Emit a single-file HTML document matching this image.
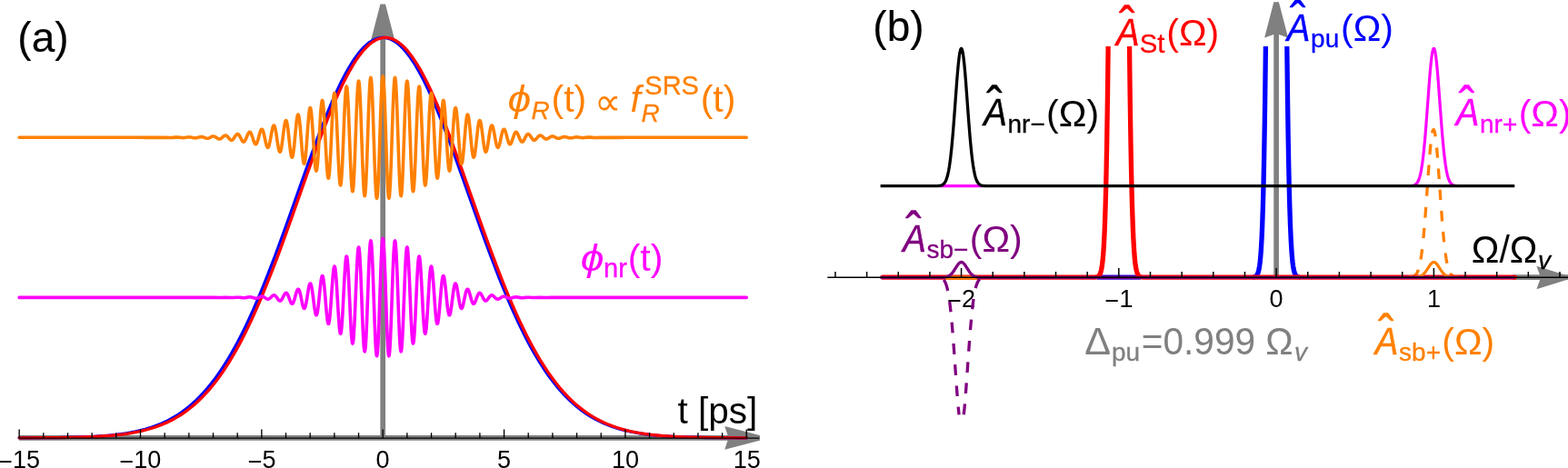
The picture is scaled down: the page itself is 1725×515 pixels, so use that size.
<!DOCTYPE html>
<html><head><meta charset="utf-8"><title>Figure</title>
<style>
html,body{margin:0;padding:0;background:#fff;}
body{width:1725px;height:515px;overflow:hidden;}
svg{display:block;}
svg text{font-family:"Liberation Sans","DejaVu Sans",sans-serif;stroke-width:0;stroke-linejoin:round;}
.w{stroke-width:0.15px}.w3{stroke-width:0.3px}.w5{stroke-width:0.5px}
.i{font-style:italic}
.k{fill:#000;stroke:#000}.o{fill:#ff8000;stroke:#ff8000}.m{fill:#f0f;stroke:#f0f}.p{fill:#800080;stroke:#800080}
.g{fill:#808080;stroke:#808080}.b{fill:#00f;stroke:#00f}.r{fill:#f00;stroke:#f00}
</style></head><body>
<svg width="1725" height="515" viewBox="0 0 1725 515">
<rect width="1725" height="515" fill="#fff"/>
<path d="M21,481.85 L835.7,481.85" stroke="#808080" stroke-width="5.6" fill="none"/>
<path d="M835.7,479.05 L797.3,468.95 L801.4,481.85 L797.3,494.75 L835.7,484.65 Z" fill="#808080"/>
<path d="M421.2,481.85 L421.2,4.8" stroke="#808080" stroke-width="5.7" fill="none"/>
<path d="M418.35,4.8 L408.10,44.3 L421.2,39.8 L434.30,44.3 L424.05,4.8 Z" fill="#808080"/>
<path d="M21.15,481.84 L50.49,481.7 L62.49,481.57 L73.16,481.4 L82.49,481.19 L91.83,480.89 L99.83,480.55 L106.49,480.18 L114.49,479.63 L121.16,479.06 L127.83,478.35 L133.16,477.68 L138.5,476.89 L143.83,475.98 L149.17,474.92 L154.5,473.7 L159.83,472.3 L165.17,470.7 L170.5,468.87 L174.5,467.33 L177.17,466.22 L179.84,465.04 L183.84,463.13 L187.84,461.05 L191.84,458.77 L195.84,456.29 L199.84,453.59 L203.84,450.66 L207.84,447.5 L211.84,444.08 L215.84,440.4 L219.84,436.44 L223.84,432.19 L227.84,427.64 L231.84,422.78 L235.84,417.61 L238.51,413.97 L242.51,408.24 L245.18,404.23 L249.18,397.93 L251.85,393.54 L255.85,386.66 L258.51,381.88 L261.18,376.94 L265.18,369.23 L267.85,363.9 L271.85,355.62 L274.51,349.91 L278.52,341.07 L283.85,328.78 L286.52,322.43 L290.52,312.66 L295.85,299.21 L302.52,281.77 L307.85,267.41 L314.52,249.04 L334.52,192.71 L341.19,174.13 L347.86,155.99 L353.19,141.93 L357.19,131.73 L359.86,125.11 L362.53,118.65 L365.19,112.38 L367.86,106.29 L370.53,100.41 L373.19,94.75 L375.86,89.31 L379.86,81.61 L382.53,76.8 L385.2,72.25 L387.86,67.99 L390.53,64.01 L391.86,62.13 L394.53,58.61 L397.2,55.39 L399.86,52.49 L402.53,49.92 L403.86,48.75 L405.2,47.67 L406.53,46.68 L407.87,45.77 L409.2,44.94 L410.53,44.2 L411.87,43.54 L413.2,42.98 L414.53,42.5 L415.87,42.1 L417.2,41.79 L418.53,41.58 L419.87,41.44 L421.2,41.4 L422.53,41.44 L423.87,41.58 L425.2,41.79 L426.53,42.1 L427.87,42.5 L429.2,42.98 L430.53,43.54 L431.87,44.2 L433.2,44.94 L434.53,45.77 L435.87,46.68 L437.2,47.67 L438.54,48.75 L439.87,49.92 L442.54,52.49 L445.2,55.39 L447.87,58.61 L450.54,62.13 L451.87,64.01 L454.54,67.99 L457.2,72.25 L459.87,76.8 L462.54,81.61 L466.54,89.31 L469.21,94.75 L471.87,100.41 L474.54,106.29 L477.21,112.38 L479.87,118.65 L482.54,125.11 L485.21,131.73 L489.21,141.93 L494.54,155.99 L501.21,174.13 L507.88,192.71 L527.88,249.04 L534.55,267.41 L539.88,281.77 L546.55,299.21 L551.88,312.66 L555.88,322.43 L558.55,328.78 L563.88,341.07 L567.88,349.91 L570.55,355.62 L574.55,363.9 L577.22,369.23 L581.22,376.94 L583.89,381.88 L586.55,386.66 L590.55,393.54 L593.22,397.93 L597.22,404.23 L599.89,408.24 L603.89,413.97 L606.56,417.61 L610.56,422.78 L614.56,427.64 L618.56,432.19 L622.56,436.44 L626.56,440.4 L630.56,444.08 L634.56,447.5 L638.56,450.66 L642.56,453.59 L646.56,456.29 L650.56,458.77 L654.56,461.05 L658.56,463.13 L662.56,465.04 L665.23,466.22 L667.9,467.33 L671.9,468.87 L677.23,470.7 L682.57,472.3 L687.9,473.7 L693.23,474.92 L698.57,475.98 L703.9,476.89 L709.24,477.68 L714.57,478.35 L721.24,479.06 L727.9,479.63 L735.91,480.18 L742.57,480.55 L750.57,480.89 L759.91,481.19 L769.24,481.4 L779.91,481.57 L791.91,481.7 L821.25,481.84" fill="none" stroke="#0000ff" stroke-width="3.3" stroke-linecap="round"/>
<path d="M21.15,481.85 L53.15,481.71 L65.16,481.59 L75.82,481.42 L85.16,481.21 L94.49,480.93 L102.49,480.59 L109.16,480.24 L117.16,479.71 L123.83,479.14 L130.5,478.45 L135.83,477.8 L141.16,477.03 L146.5,476.14 L151.83,475.1 L157.17,473.9 L162.5,472.53 L167.83,470.95 L173.17,469.15 L177.17,467.64 L179.84,466.55 L182.5,465.38 L186.5,463.5 L190.5,461.44 L194.5,459.19 L198.51,456.74 L202.51,454.08 L206.51,451.18 L210.51,448.05 L214.51,444.67 L218.51,441.02 L222.51,437.09 L226.51,432.87 L230.51,428.36 L234.51,423.53 L238.51,418.39 L241.18,414.78 L245.18,409.08 L247.84,405.09 L251.85,398.82 L254.51,394.45 L258.51,387.59 L261.18,382.82 L263.85,377.9 L267.85,370.22 L270.51,364.9 L274.51,356.64 L277.18,350.94 L281.18,342.11 L286.52,329.83 L289.18,323.48 L293.18,313.71 L298.52,300.25 L305.19,282.81 L310.52,268.42 L317.19,250.02 L323.85,231.29 L337.19,193.53 L343.86,174.89 L350.52,156.67 L355.86,142.55 L359.86,132.29 L362.53,125.64 L365.19,119.15 L367.86,112.85 L370.53,106.73 L373.19,100.81 L375.86,95.11 L378.53,89.65 L382.53,81.9 L385.2,77.06 L387.86,72.49 L390.53,68.19 L393.2,64.19 L394.53,62.3 L397.2,58.75 L399.86,55.51 L402.53,52.59 L405.2,50 L406.53,48.82 L407.87,47.74 L409.2,46.73 L410.53,45.81 L411.87,44.98 L413.2,44.23 L414.53,43.57 L415.87,43 L417.2,42.51 L418.53,42.11 L419.87,41.8 L421.2,41.58 L422.53,41.45 L423.87,41.4 L425.2,41.44 L426.53,41.57 L427.87,41.79 L429.2,42.1 L430.53,42.49 L431.87,42.97 L433.2,43.54 L434.53,44.2 L435.87,44.94 L437.2,45.77 L438.54,46.68 L439.87,47.68 L441.2,48.77 L442.54,49.94 L445.2,52.52 L447.87,55.43 L450.54,58.66 L453.2,62.21 L454.54,64.09 L457.2,68.09 L459.87,72.38 L462.54,76.94 L465.21,81.78 L469.21,89.51 L471.87,94.98 L474.54,100.67 L477.21,106.58 L479.87,112.69 L482.54,119 L485.21,125.48 L487.88,132.13 L491.88,142.38 L497.21,156.49 L503.88,174.71 L510.54,193.35 L529.21,246.11 L535.88,264.6 L541.22,279.07 L547.88,296.65 L553.22,310.23 L557.22,320.1 L559.88,326.51 L565.22,338.94 L569.22,347.89 L571.89,353.66 L575.89,362.05 L578.55,367.45 L582.55,375.25 L585.22,380.26 L587.89,385.11 L591.89,392.09 L594.56,396.54 L598.56,402.94 L601.22,407 L605.22,412.82 L607.89,416.51 L611.89,421.77 L615.89,426.71 L619.89,431.33 L623.89,435.65 L627.89,439.67 L631.89,443.42 L635.89,446.9 L639.89,450.11 L643.89,453.09 L647.89,455.83 L651.9,458.36 L655.9,460.68 L659.9,462.8 L663.9,464.75 L666.56,465.95 L669.23,467.07 L673.23,468.64 L678.57,470.5 L683.9,472.14 L689.23,473.56 L694.57,474.8 L699.9,475.88 L705.24,476.81 L710.57,477.61 L715.9,478.29 L722.57,479.01 L729.24,479.6 L737.24,480.16 L743.91,480.53 L751.91,480.87 L761.24,481.18 L770.58,481.4 L791.91,481.69 L821.25,481.84" fill="none" stroke="#ff0000" stroke-width="3.3" stroke-linecap="round"/>
<path d="M21.15,151.3 L148.1,151.32 L154.77,151.28 L161.43,151.33 L168.1,151.25 L174.77,151.37 L181.44,151.2 L188.1,151.45 L189.7,151.4 L193.17,151.14 L194.77,151.09 L196.37,151.15 L199.84,151.52 L201.44,151.59 L203.04,151.5 L206.51,150.99 L208.11,150.9 L209.71,151.02 L213.17,151.72 L213.97,151.82 L214.77,151.85 L215.57,151.81 L216.37,151.68 L219.84,150.73 L220.64,150.59 L221.44,150.55 L222.24,150.61 L223.04,150.78 L223.84,151.04 L226.51,152.07 L227.31,152.25 L228.11,152.31 L228.91,152.22 L229.71,151.99 L230.51,151.65 L232.38,150.65 L233.18,150.28 L233.98,150.04 L234.78,149.96 L235.58,150.08 L236.11,150.26 L236.64,150.52 L237.44,151.02 L239.31,152.34 L240.11,152.78 L240.91,153.03 L241.44,153.06 L242.24,152.91 L242.78,152.67 L243.31,152.33 L244.11,151.67 L245.98,149.94 L246.78,149.37 L247.58,149.05 L248.11,149 L248.38,149.03 L248.91,149.21 L249.45,149.52 L249.98,149.97 L250.78,150.82 L252.65,153.06 L253.45,153.79 L253.98,154.11 L254.25,154.2 L254.78,154.26 L255.05,154.22 L255.58,154 L256.11,153.59 L256.65,153.02 L257.45,151.92 L259.31,149.05 L260.11,148.11 L260.65,147.71 L260.91,147.59 L261.45,147.52 L261.71,147.57 L262.25,147.86 L262.78,148.38 L263.31,149.12 L264.11,150.51 L265.71,153.68 L266.25,154.6 L266.78,155.34 L267.31,155.84 L267.58,156 L267.85,156.08 L268.11,156.08 L268.38,156.01 L268.65,155.87 L268.91,155.64 L269.45,154.98 L269.98,154.05 L270.78,152.29 L272.38,148.31 L273.18,146.67 L273.71,145.88 L273.98,145.6 L274.25,145.41 L274.51,145.32 L274.78,145.31 L275.05,145.4 L275.32,145.59 L275.58,145.87 L276.12,146.7 L276.65,147.86 L277.45,150.07 L279.05,155.02 L279.85,157.05 L280.38,158.03 L280.65,158.37 L280.92,158.6 L281.18,158.72 L281.45,158.72 L281.72,158.61 L281.98,158.37 L282.25,158.02 L282.52,157.56 L283.05,156.31 L283.85,153.79 L285.72,146.72 L286.52,144.22 L287.05,143.03 L287.32,142.62 L287.58,142.34 L287.85,142.19 L288.12,142.19 L288.38,142.34 L288.65,142.63 L288.92,143.06 L289.18,143.63 L289.72,145.16 L290.52,148.25 L292.38,156.88 L293.18,159.92 L293.72,161.36 L293.98,161.86 L294.25,162.2 L294.52,162.37 L294.78,162.37 L295.05,162.19 L295.32,161.83 L295.58,161.3 L295.85,160.6 L296.38,158.74 L297.18,154.99 L299.05,144.57 L299.85,140.91 L300.38,139.18 L300.65,138.58 L300.92,138.18 L301.18,137.98 L301.45,137.99 L301.72,138.21 L301.99,138.65 L302.25,139.29 L302.52,140.13 L303.05,142.38 L303.85,146.88 L305.45,157.65 L306.25,162.4 L306.79,164.83 L307.05,165.75 L307.32,166.46 L307.59,166.93 L307.85,167.17 L308.12,167.15 L308.39,166.88 L308.65,166.35 L308.92,165.58 L309.45,163.34 L309.99,160.27 L310.52,156.54 L312.12,143.78 L312.92,138.18 L313.45,135.32 L313.72,134.23 L313.99,133.41 L314.25,132.85 L314.52,132.59 L314.79,132.62 L315.05,132.94 L315.32,133.57 L315.59,134.48 L316.12,137.13 L316.92,142.87 L318.79,160.11 L319.59,166.66 L320.12,169.99 L320.39,171.25 L320.65,172.21 L320.92,172.85 L321.19,173.15 L321.45,173.11 L321.72,172.72 L321.99,171.98 L322.25,170.91 L322.79,167.81 L323.59,161.11 L325.45,141.08 L326.25,133.5 L326.79,129.66 L327.05,128.21 L327.32,127.11 L327.59,126.38 L327.86,126.04 L328.12,126.1 L328.39,126.56 L328.66,127.42 L328.92,128.67 L329.46,132.26 L330.26,140 L332.12,163.04 L332.92,171.72 L333.46,176.11 L333.72,177.76 L333.99,179.01 L334.26,179.83 L334.52,180.21 L334.79,180.13 L335.06,179.59 L335.32,178.6 L335.59,177.16 L336.12,173.04 L336.92,164.19 L338.79,137.95 L339.59,128.1 L340.12,123.14 L340.39,121.28 L340.66,119.87 L340.92,118.96 L341.19,118.54 L341.46,118.64 L341.72,119.27 L341.99,120.4 L342.26,122.04 L342.79,126.73 L343.59,136.75 L345.46,166.33 L346.26,177.38 L346.79,182.94 L347.06,185.02 L347.32,186.58 L347.59,187.6 L347.86,188.05 L348.12,187.92 L348.39,187.21 L348.66,185.92 L348.92,184.07 L349.46,178.8 L350.26,167.57 L352.12,134.55 L352.92,122.26 L353.46,116.1 L353.72,113.8 L353.99,112.08 L354.26,110.96 L354.52,110.48 L354.79,110.64 L355.06,111.45 L355.33,112.89 L355.59,114.96 L356.13,120.83 L356.93,133.29 L358.79,169.79 L359.59,183.31 L360.13,190.07 L360.39,192.58 L360.66,194.46 L360.93,195.67 L361.19,196.19 L361.46,195.99 L361.73,195.09 L361.99,193.49 L362.26,191.2 L362.79,184.73 L363.59,171.03 L365.46,131.1 L366.26,116.36 L366.79,109.03 L367.06,106.3 L367.33,104.27 L367.59,102.97 L367.86,102.43 L368.13,102.66 L368.39,103.66 L368.66,105.43 L368.93,107.93 L369.46,115 L370.26,129.9 L372.13,173.16 L372.93,189.05 L373.46,196.94 L373.73,199.86 L373.99,202.03 L374.26,203.41 L374.53,203.98 L374.79,203.71 L375.06,202.61 L375.33,200.69 L375.59,197.97 L376.13,190.34 L376.93,174.29 L378.79,127.89 L379.59,110.92 L380.13,102.52 L380.39,99.41 L380.66,97.11 L380.93,95.66 L381.19,95.09 L381.46,95.4 L381.73,96.59 L382,98.66 L382.26,101.57 L382.8,109.74 L383.6,126.86 L385.46,176.12 L386.26,194.07 L386.8,202.92 L387.06,206.19 L387.33,208.59 L387.6,210.11 L387.86,210.69 L388.13,210.34 L388.4,209.05 L388.66,206.85 L388.93,203.76 L389.46,195.1 L390.26,177.03 L392.13,125.24 L392.93,106.46 L393.46,97.21 L393.73,93.82 L394,91.32 L394.26,89.76 L394.53,89.17 L394.8,89.57 L395.06,90.94 L395.33,93.26 L395.6,96.52 L396.13,105.59 L396.93,124.48 L398.8,178.38 L399.6,197.85 L400.13,207.4 L400.4,210.9 L400.66,213.47 L400.93,215.05 L401.2,215.64 L401.46,215.21 L401.73,213.77 L402,211.33 L402.26,207.94 L402.8,198.53 L403.6,178.97 L405.46,123.43 L406.26,103.46 L406.8,93.68 L407.06,90.12 L407.33,87.51 L407.6,85.91 L407.87,85.33 L408.13,85.8 L408.4,87.3 L408.67,89.82 L408.93,93.31 L409.47,102.99 L410.27,123.03 L412.13,179.69 L412.93,199.98 L413.47,209.88 L413.73,213.48 L414,216.11 L414.27,217.71 L414.53,218.26 L414.8,217.76 L415.07,216.21 L415.33,213.63 L415.6,210.07 L416.13,200.22 L416.93,179.9 L418.8,122.66 L419.6,102.25 L420.13,92.33 L420.4,88.73 L420.67,86.12 L420.93,84.53 L421.2,84 L421.47,84.53 L421.73,86.12 L422,88.73 L422.27,92.33 L422.8,102.25 L423.6,122.66 L425.47,179.9 L426.27,200.22 L426.8,210.07 L427.07,213.63 L427.33,216.21 L427.6,217.76 L427.87,218.26 L428.13,217.71 L428.4,216.11 L428.67,213.48 L428.93,209.88 L429.47,199.98 L430.27,179.69 L432.13,123.03 L432.93,102.99 L433.47,93.31 L433.73,89.82 L434,87.3 L434.27,85.8 L434.53,85.33 L434.8,85.91 L435.07,87.51 L435.34,90.12 L435.6,93.68 L436.14,103.46 L436.94,123.43 L438.8,178.97 L439.6,198.53 L440.14,207.94 L440.4,211.33 L440.67,213.77 L440.94,215.21 L441.2,215.64 L441.47,215.05 L441.74,213.47 L442,210.9 L442.27,207.4 L442.8,197.85 L443.6,178.38 L445.47,124.48 L446.27,105.59 L446.8,96.52 L447.07,93.26 L447.34,90.94 L447.6,89.57 L447.87,89.17 L448.14,89.76 L448.4,91.32 L448.67,93.82 L448.94,97.21 L449.47,106.46 L450.27,125.24 L452.14,177.03 L452.94,195.1 L453.47,203.76 L453.74,206.85 L454,209.05 L454.27,210.34 L454.54,210.69 L454.8,210.11 L455.07,208.59 L455.34,206.19 L455.6,202.92 L456.14,194.07 L456.94,176.12 L458.8,126.86 L459.6,109.74 L460.14,101.57 L460.4,98.66 L460.67,96.59 L460.94,95.4 L461.2,95.09 L461.47,95.66 L461.74,97.11 L462.01,99.41 L462.27,102.52 L462.81,110.92 L463.61,127.89 L465.47,174.29 L466.27,190.34 L466.81,197.97 L467.07,200.69 L467.34,202.61 L467.61,203.71 L467.87,203.98 L468.14,203.41 L468.41,202.03 L468.67,199.86 L468.94,196.94 L469.47,189.05 L470.27,173.16 L472.14,129.9 L472.94,115 L473.47,107.93 L473.74,105.43 L474.01,103.66 L474.27,102.66 L474.54,102.43 L474.81,102.97 L475.07,104.27 L475.34,106.3 L475.61,109.03 L476.14,116.36 L476.94,131.1 L478.81,171.03 L479.61,184.73 L480.14,191.2 L480.41,193.49 L480.67,195.09 L480.94,195.99 L481.21,196.19 L481.47,195.67 L481.74,194.46 L482.01,192.58 L482.27,190.07 L482.81,183.31 L483.61,169.79 L485.47,133.29 L486.27,120.83 L486.81,114.96 L487.07,112.89 L487.34,111.45 L487.61,110.64 L487.88,110.48 L488.14,110.96 L488.41,112.08 L488.68,113.8 L488.94,116.1 L489.48,122.26 L490.28,134.55 L492.14,167.57 L492.94,178.8 L493.48,184.07 L493.74,185.92 L494.01,187.21 L494.28,187.92 L494.54,188.05 L494.81,187.6 L495.08,186.58 L495.34,185.02 L495.61,182.94 L496.14,177.38 L496.94,166.33 L498.81,136.75 L499.61,126.73 L500.14,122.04 L500.41,120.4 L500.68,119.27 L500.94,118.64 L501.21,118.54 L501.48,118.96 L501.74,119.87 L502.01,121.28 L502.28,123.14 L502.81,128.1 L503.61,137.95 L505.48,164.19 L506.28,173.04 L506.81,177.16 L507.08,178.6 L507.34,179.59 L507.61,180.13 L507.88,180.21 L508.14,179.83 L508.41,179.01 L508.68,177.76 L508.94,176.11 L509.48,171.72 L510.28,163.04 L512.14,140 L512.94,132.26 L513.48,128.67 L513.74,127.42 L514.01,126.56 L514.28,126.1 L514.54,126.04 L514.81,126.38 L515.08,127.11 L515.35,128.21 L515.61,129.66 L516.15,133.5 L516.95,141.08 L518.81,161.11 L519.61,167.81 L520.15,170.91 L520.41,171.98 L520.68,172.72 L520.95,173.11 L521.21,173.15 L521.48,172.85 L521.75,172.21 L522.01,171.25 L522.28,169.99 L522.81,166.66 L523.61,160.11 L525.48,142.87 L526.28,137.13 L526.81,134.48 L527.08,133.57 L527.35,132.94 L527.61,132.62 L527.88,132.59 L528.15,132.85 L528.41,133.41 L528.68,134.23 L528.95,135.32 L529.48,138.18 L530.28,143.78 L531.88,156.54 L532.41,160.27 L532.95,163.34 L533.48,165.58 L533.75,166.35 L534.01,166.88 L534.28,167.15 L534.55,167.17 L534.81,166.93 L535.08,166.46 L535.35,165.75 L535.61,164.83 L536.15,162.4 L536.95,157.65 L538.55,146.88 L539.35,142.38 L539.88,140.13 L540.15,139.29 L540.41,138.65 L540.68,138.21 L540.95,137.99 L541.22,137.98 L541.48,138.18 L541.75,138.58 L542.02,139.18 L542.55,140.91 L543.35,144.57 L545.22,154.99 L546.02,158.74 L546.55,160.6 L546.82,161.3 L547.08,161.83 L547.35,162.19 L547.62,162.37 L547.88,162.37 L548.15,162.2 L548.42,161.86 L548.68,161.36 L549.22,159.92 L550.02,156.88 L551.88,148.25 L552.68,145.16 L553.22,143.63 L553.48,143.06 L553.75,142.63 L554.02,142.34 L554.28,142.19 L554.55,142.19 L554.82,142.34 L555.08,142.62 L555.35,143.03 L555.88,144.22 L556.68,146.72 L558.55,153.79 L559.35,156.31 L559.88,157.56 L560.15,158.02 L560.42,158.37 L560.68,158.61 L560.95,158.72 L561.22,158.72 L561.48,158.6 L561.75,158.37 L562.02,158.03 L562.55,157.05 L563.35,155.02 L564.95,150.07 L565.75,147.86 L566.28,146.7 L566.82,145.87 L567.08,145.59 L567.35,145.4 L567.62,145.31 L567.88,145.32 L568.15,145.41 L568.42,145.6 L568.69,145.88 L569.22,146.67 L570.02,148.31 L571.62,152.29 L572.42,154.05 L572.95,154.98 L573.49,155.64 L573.75,155.87 L574.02,156.01 L574.29,156.08 L574.55,156.08 L574.82,156 L575.09,155.84 L575.62,155.34 L576.15,154.6 L576.69,153.68 L578.29,150.51 L579.09,149.12 L579.62,148.38 L580.15,147.86 L580.69,147.57 L580.95,147.52 L581.49,147.59 L581.75,147.71 L582.29,148.11 L583.09,149.05 L584.95,151.92 L585.75,153.02 L586.29,153.59 L586.82,154 L587.35,154.22 L587.62,154.26 L588.15,154.2 L588.42,154.11 L588.95,153.79 L589.75,153.06 L591.62,150.82 L592.42,149.97 L592.95,149.52 L593.49,149.21 L594.02,149.03 L594.29,149 L594.82,149.05 L595.62,149.37 L596.42,149.94 L598.29,151.67 L599.09,152.33 L599.62,152.67 L600.16,152.91 L600.96,153.06 L601.49,153.03 L602.29,152.78 L603.09,152.34 L604.96,151.02 L605.76,150.52 L606.29,150.26 L606.82,150.08 L607.62,149.96 L608.42,150.04 L609.22,150.28 L610.02,150.65 L611.89,151.65 L612.69,151.99 L613.49,152.22 L614.29,152.31 L615.09,152.25 L615.89,152.07 L618.56,151.04 L619.36,150.78 L620.16,150.61 L620.96,150.55 L621.76,150.59 L622.56,150.73 L626.03,151.68 L626.83,151.81 L627.63,151.85 L628.43,151.82 L629.23,151.72 L632.69,151.02 L634.29,150.9 L635.89,150.99 L639.36,151.5 L640.96,151.59 L642.56,151.52 L646.03,151.15 L647.63,151.09 L649.23,151.14 L652.7,151.4 L654.3,151.45 L660.96,151.2 L667.63,151.37 L674.3,151.25 L680.97,151.33 L687.63,151.28 L694.3,151.32 L821.25,151.3" fill="none" stroke="#ff8000" stroke-width="3.6" stroke-linejoin="round" stroke-linecap="round"/>
<path d="M21.15,327.4 L228.38,327.41 L235.04,327.37 L241.44,327.45 L248.11,327.32 L254.78,327.53 L256.65,327.48 L259.85,327.25 L261.45,327.19 L263.31,327.27 L266.51,327.64 L268.11,327.73 L269.71,327.64 L273.18,327.02 L273.98,326.92 L274.78,326.88 L275.58,326.92 L276.38,327.03 L277.45,327.28 L279.85,327.99 L280.65,328.14 L281.45,328.2 L282.25,328.14 L283.05,327.97 L284.12,327.58 L286.52,326.51 L287.32,326.28 L288.12,326.2 L288.92,326.29 L289.72,326.55 L290.78,327.13 L292.38,328.23 L293.18,328.72 L293.98,329.05 L294.78,329.17 L295.58,329.04 L296.38,328.65 L296.92,328.26 L297.45,327.79 L299.05,326.18 L299.85,325.48 L300.65,325 L301.18,324.85 L301.45,324.84 L301.99,324.93 L302.25,325.04 L302.52,325.19 L303.05,325.61 L303.85,326.49 L305.72,329.14 L306.52,330.13 L307.05,330.63 L307.32,330.81 L307.85,331.02 L308.12,331.04 L308.65,330.9 L308.92,330.74 L309.19,330.53 L309.72,329.93 L310.52,328.68 L312.39,324.97 L313.19,323.59 L313.72,322.9 L313.99,322.65 L314.25,322.47 L314.52,322.37 L314.79,322.35 L315.05,322.4 L315.32,322.54 L315.59,322.76 L315.85,323.07 L316.39,323.9 L317.19,325.64 L319.05,330.73 L319.85,332.62 L320.39,333.55 L320.65,333.88 L320.92,334.12 L321.19,334.26 L321.45,334.28 L321.72,334.2 L321.99,334.01 L322.25,333.7 L322.52,333.29 L323.05,332.15 L323.85,329.78 L325.72,322.92 L326.52,320.4 L327.05,319.17 L327.32,318.72 L327.59,318.41 L327.86,318.24 L328.12,318.21 L328.39,318.33 L328.66,318.59 L328.92,319.01 L329.46,320.26 L329.99,322.04 L330.79,325.46 L332.66,334.51 L333.19,336.61 L333.46,337.48 L333.72,338.21 L333.99,338.78 L334.26,339.18 L334.52,339.4 L334.79,339.43 L335.06,339.27 L335.32,338.91 L335.59,338.36 L336.12,336.7 L336.66,334.38 L337.46,329.92 L339.32,318.23 L339.86,315.52 L340.12,314.41 L340.39,313.48 L340.66,312.76 L340.92,312.26 L341.19,311.99 L341.46,311.97 L341.72,312.19 L341.99,312.66 L342.26,313.37 L342.79,315.51 L343.32,318.5 L344.12,324.2 L345.72,337.07 L346.26,340.8 L346.79,343.8 L347.06,344.96 L347.32,345.85 L347.59,346.47 L347.86,346.79 L348.12,346.81 L348.39,346.51 L348.66,345.91 L348.92,344.99 L349.46,342.29 L349.99,338.54 L350.79,331.39 L352.39,315.39 L353.19,308.82 L353.72,305.69 L353.99,304.6 L354.26,303.86 L354.52,303.48 L354.79,303.48 L355.06,303.86 L355.33,304.62 L355.59,305.76 L355.86,307.27 L356.39,311.29 L357.19,319.41 L359.06,342.01 L359.86,349.96 L360.39,353.71 L360.66,355.01 L360.93,355.89 L361.19,356.32 L361.46,356.3 L361.73,355.82 L361.99,354.87 L362.26,353.48 L362.53,351.65 L363.06,346.77 L363.86,336.99 L365.46,313.64 L366.26,303.37 L366.79,298.13 L367.06,296.14 L367.33,294.62 L367.59,293.61 L367.86,293.12 L368.13,293.17 L368.39,293.77 L368.66,294.91 L368.93,296.59 L369.46,301.45 L370.26,311.96 L372.13,343.5 L372.93,355.46 L373.46,361.52 L373.73,363.81 L373.99,365.54 L374.26,366.69 L374.53,367.23 L374.79,367.13 L375.06,366.41 L375.33,365.05 L375.59,363.08 L376.13,357.41 L376.93,345.21 L378.79,308.93 L379.59,295.3 L380.13,288.42 L380.39,285.84 L380.66,283.89 L380.93,282.62 L381.19,282.05 L381.46,282.19 L381.73,283.05 L382,284.63 L382.26,286.9 L382.8,293.39 L383.6,307.26 L385.46,348.17 L386.26,363.41 L386.8,371.05 L387.06,373.9 L387.33,376.04 L387.6,377.42 L387.86,378.03 L388.13,377.83 L388.4,376.83 L388.66,375.03 L388.93,372.47 L389.46,365.18 L390.26,349.72 L392.13,304.51 L392.93,287.81 L393.46,279.49 L393.73,276.4 L394,274.09 L394.26,272.62 L394.53,272.01 L394.8,272.27 L395.06,273.41 L395.33,275.41 L395.6,278.25 L396.13,286.26 L396.93,303.16 L398.8,352.12 L399.6,370.06 L400.13,378.95 L400.4,382.23 L400.66,384.66 L400.93,386.2 L401.2,386.81 L401.46,386.48 L401.73,385.21 L402,383.03 L402.26,379.95 L402.8,371.31 L403.6,353.21 L405.46,301.22 L406.26,282.34 L406.8,273.04 L407.06,269.62 L407.33,267.11 L407.6,265.54 L407.87,264.95 L408.13,265.34 L408.4,266.72 L408.67,269.06 L408.93,272.34 L409.47,281.46 L410.27,300.46 L412.13,354.57 L412.93,374.06 L413.47,383.6 L413.73,387.08 L414,389.63 L414.27,391.19 L414.53,391.75 L414.8,391.3 L415.07,389.83 L415.33,387.37 L415.6,383.96 L416.13,374.51 L416.93,354.96 L418.8,299.76 L419.6,280.04 L420.13,270.45 L420.4,266.97 L420.67,264.45 L420.93,262.91 L421.2,262.4 L421.47,262.91 L421.73,264.45 L422,266.97 L422.27,270.45 L422.8,280.04 L423.6,299.76 L425.47,354.96 L426.27,374.51 L426.8,383.96 L427.07,387.37 L427.33,389.83 L427.6,391.3 L427.87,391.75 L428.13,391.19 L428.4,389.63 L428.67,387.08 L428.93,383.6 L429.47,374.06 L430.27,354.57 L432.13,300.46 L432.93,281.46 L433.47,272.34 L433.73,269.06 L434,266.72 L434.27,265.34 L434.53,264.95 L434.8,265.54 L435.07,267.11 L435.34,269.62 L435.6,273.04 L436.14,282.34 L436.94,301.22 L438.8,353.21 L439.6,371.31 L440.14,379.95 L440.4,383.03 L440.67,385.21 L440.94,386.48 L441.2,386.81 L441.47,386.2 L441.74,384.66 L442,382.23 L442.27,378.95 L442.8,370.06 L443.6,352.12 L445.47,303.16 L446.27,286.26 L446.8,278.25 L447.07,275.41 L447.34,273.41 L447.6,272.27 L447.87,272.01 L448.14,272.62 L448.4,274.09 L448.67,276.4 L448.94,279.49 L449.47,287.81 L450.27,304.51 L452.14,349.72 L452.94,365.18 L453.47,372.47 L453.74,375.03 L454,376.83 L454.27,377.83 L454.54,378.03 L454.8,377.42 L455.07,376.04 L455.34,373.9 L455.6,371.05 L456.14,363.41 L456.94,348.17 L458.8,307.26 L459.6,293.39 L460.14,286.9 L460.4,284.63 L460.67,283.05 L460.94,282.19 L461.2,282.05 L461.47,282.62 L461.74,283.89 L462.01,285.84 L462.27,288.42 L462.81,295.3 L463.61,308.93 L465.47,345.21 L466.27,357.41 L466.81,363.08 L467.07,365.05 L467.34,366.41 L467.61,367.13 L467.87,367.23 L468.14,366.69 L468.41,365.54 L468.67,363.81 L468.94,361.52 L469.47,355.46 L470.27,343.5 L472.14,311.96 L472.94,301.45 L473.47,296.59 L473.74,294.91 L474.01,293.77 L474.27,293.17 L474.54,293.12 L474.81,293.61 L475.07,294.62 L475.34,296.14 L475.61,298.13 L476.14,303.37 L476.94,313.64 L478.54,336.99 L479.34,346.77 L479.87,351.65 L480.14,353.48 L480.41,354.87 L480.67,355.82 L480.94,356.3 L481.21,356.32 L481.47,355.89 L481.74,355.01 L482.01,353.71 L482.54,349.96 L483.34,342.01 L485.21,319.41 L486.01,311.29 L486.54,307.27 L486.81,305.76 L487.07,304.62 L487.34,303.86 L487.61,303.48 L487.88,303.48 L488.14,303.86 L488.41,304.6 L488.68,305.69 L489.21,308.82 L490.01,315.39 L491.61,331.39 L492.41,338.54 L492.94,342.29 L493.48,344.99 L493.74,345.91 L494.01,346.51 L494.28,346.81 L494.54,346.79 L494.81,346.47 L495.08,345.85 L495.34,344.96 L495.61,343.8 L496.14,340.8 L496.68,337.07 L498.28,324.2 L499.08,318.5 L499.61,315.51 L500.14,313.37 L500.41,312.66 L500.68,312.19 L500.94,311.97 L501.21,311.99 L501.48,312.26 L501.74,312.76 L502.01,313.48 L502.28,314.41 L502.54,315.52 L503.08,318.23 L504.94,329.92 L505.74,334.38 L506.28,336.7 L506.81,338.36 L507.08,338.91 L507.34,339.27 L507.61,339.43 L507.88,339.4 L508.14,339.18 L508.41,338.78 L508.68,338.21 L508.94,337.48 L509.21,336.61 L509.74,334.51 L511.61,325.46 L512.41,322.04 L512.94,320.26 L513.48,319.01 L513.74,318.59 L514.01,318.33 L514.28,318.21 L514.54,318.24 L514.81,318.41 L515.08,318.72 L515.35,319.17 L515.88,320.4 L516.68,322.92 L518.55,329.78 L519.35,332.15 L519.88,333.29 L520.15,333.7 L520.41,334.01 L520.68,334.2 L520.95,334.28 L521.21,334.26 L521.48,334.12 L521.75,333.88 L522.01,333.55 L522.55,332.62 L523.35,330.73 L525.21,325.64 L526.01,323.9 L526.55,323.07 L526.81,322.76 L527.08,322.54 L527.35,322.4 L527.61,322.35 L527.88,322.37 L528.15,322.47 L528.41,322.65 L528.68,322.9 L529.21,323.59 L530.01,324.97 L531.88,328.68 L532.68,329.93 L533.21,330.53 L533.48,330.74 L533.75,330.9 L534.28,331.04 L534.55,331.02 L535.08,330.81 L535.35,330.63 L535.88,330.13 L536.68,329.14 L538.55,326.49 L539.35,325.61 L539.88,325.19 L540.15,325.04 L540.41,324.93 L540.95,324.84 L541.22,324.85 L541.75,325 L542.55,325.48 L543.35,326.18 L544.95,327.79 L545.48,328.26 L546.02,328.65 L546.82,329.04 L547.62,329.17 L548.42,329.05 L549.22,328.72 L550.02,328.23 L551.62,327.13 L552.68,326.55 L553.48,326.29 L554.28,326.2 L555.08,326.28 L555.88,326.51 L558.28,327.58 L559.35,327.97 L560.15,328.14 L560.95,328.2 L561.75,328.14 L562.55,327.99 L564.95,327.28 L566.02,327.03 L566.82,326.92 L567.62,326.88 L568.42,326.92 L569.22,327.02 L572.69,327.64 L574.29,327.73 L575.89,327.64 L579.09,327.27 L580.95,327.19 L582.55,327.25 L585.75,327.48 L587.62,327.53 L594.29,327.32 L600.96,327.45 L607.36,327.37 L614.02,327.41 L821.25,327.4" fill="none" stroke="#ff00ff" stroke-width="3.6" stroke-linejoin="round" stroke-linecap="round"/>
<path d="M20.45,482.15 L835.3,482.15 M21.15,482.15 v-9.6 M47.82,482.15 v-6.0 M74.49,482.15 v-6.0 M101.16,482.15 v-6.0 M127.83,482.15 v-6.0 M154.50,482.15 v-9.6 M181.17,482.15 v-6.0 M207.84,482.15 v-6.0 M234.51,482.15 v-6.0 M261.18,482.15 v-6.0 M287.85,482.15 v-9.6 M314.52,482.15 v-6.0 M341.19,482.15 v-6.0 M367.86,482.15 v-6.0 M394.53,482.15 v-6.0 M421.20,482.15 v-9.6 M447.87,482.15 v-6.0 M474.54,482.15 v-6.0 M501.21,482.15 v-6.0 M527.88,482.15 v-6.0 M554.55,482.15 v-9.6 M581.22,482.15 v-6.0 M607.89,482.15 v-6.0 M634.56,482.15 v-6.0 M661.23,482.15 v-6.0 M687.90,482.15 v-9.6 M714.57,482.15 v-6.0 M741.24,482.15 v-6.0 M767.91,482.15 v-6.0 M794.58,482.15 v-6.0 M821.25,482.15 v-9.6" stroke="#000" stroke-width="1.35" fill="none"/>
<path d="M1573.96,158.5 L1572.91,170 M1572.01,181.5 L1571.17,193 M1570.37,204.5 L1569.59,215.7 M1568.73,227.8 L1567.84,239.6 M1566.94,250.8 L1565.9,262.2 M1564.59,274.3 L1563.79,280.38 L1562.98,285.6 M1560.41,296.7 L1559.74,298.52 L1559.09,299.94 L1558.41,301.16 L1557.67,302.17 L1557.12,302.78 L1556.68,303.18 L1555.82,303.79 L1555.02,304.19 L1553.79,304.6 M1580.57,162.5 L1581.53,173.7 M1582.43,185.5 L1583.25,197 M1584.06,208.7 L1584.85,220 M1585.72,232 L1586.6,243.5 M1587.57,255 L1588.65,266.3 M1590.09,278.5 L1590.99,284.58 L1591.95,289.8 M1595.46,300.7 L1596.08,301.67 L1596.78,302.53 L1597.46,303.18 L1598.2,303.72 L1599.01,304.15 L1599.88,304.47 L1600.72,304.68 L1602.12,304.9 M1575.6,146.3 L1576.05,144.39 L1576.3,143.63 L1576.52,143.12 L1576.79,142.74 L1576.99,142.61 L1577.15,142.61 L1577.47,142.87 L1577.85,143.66 L1578.31,145.23 L1578.73,147.32 L1579.19,150.2" fill="none" stroke="#ff8000" stroke-width="3.3" stroke-linejoin="round"/>
<path d="M1664.3,305.1 L1726,305.1" stroke="#808080" stroke-width="5.6" fill="none"/>
<path d="M1731,305.5 L1690.4,292.7 L1695,305.5 L1690.4,318.3 Z" fill="#808080"/>
<path d="M1404.1,305.0 L1404.1,2.4" stroke="#808080" stroke-width="5.7" fill="none"/>
<path d="M1401.25,2.4 L1391.10,41.6 L1404.1,37.0 L1417.10,41.6 L1406.95,2.4 Z" fill="#808080"/>
<clipPath id="cl"><rect x="900" y="51.0" width="830" height="300"/></clipPath>
<path d="M1206.8,305.1 L1254.8,305.1" fill="none" stroke="#2b00d4" stroke-width="5.3"/>
<path d="M1378.11,305.01 L1379.47,304.85 L1380.58,304.56 L1381.49,304.09 L1381.88,303.8 L1382.27,303.42 L1382.98,302.46 L1383.57,301.32 L1384.15,299.74 L1384.67,297.85 L1385.19,295.37 L1385.65,292.59 L1386.1,289.13 L1386.49,285.5 L1386.88,281.15 L1387.27,275.97 L1387.99,263.87 L1388.7,247.62 L1389.35,228.37 L1390,203.92 L1390.58,176.71 L1391.1,147.76 L1391.62,113.83 L1392.79,20 L1415.41,20 L1416.58,113.83 L1417.1,147.76 L1417.62,176.71 L1418.2,203.92 L1418.85,228.37 L1419.5,247.62 L1420.21,263.87 L1420.93,275.97 L1421.32,281.15 L1421.71,285.5 L1422.1,289.13 L1422.55,292.59 L1423.01,295.37 L1423.53,297.85 L1424.05,299.74 L1424.63,301.32 L1425.22,302.46 L1425.93,303.42 L1426.32,303.8 L1426.71,304.09 L1427.62,304.56 L1428.73,304.85 L1430.09,305.01" fill="none" stroke="#0000ff" stroke-width="5.3" stroke-linejoin="round" clip-path="url(#cl)"/>
<path d="M971,305.1 L1202.01,305.09 L1204.97,305 L1205.84,304.91 L1206.71,304.74 L1207.4,304.52 L1208.1,304.17 L1208.62,303.79 L1209.14,303.26 L1209.84,302.25 L1210.36,301.18 L1210.88,299.75 L1211.4,297.85 L1211.92,295.37 L1212.27,293.31 L1212.96,287.96 L1213.66,280.56 L1214.36,270.44 L1215.05,256.85 L1215.57,243.84 L1216.09,227.94 L1216.61,208.69 L1217.14,185.6 L1217.66,158.16 L1218.53,101.4 L1219.4,28.94 L1219.57,20 L1242.17,20 L1243.04,94.12 L1243.56,130.95 L1244.08,162.49 L1244.6,189.25 L1245.12,211.75 L1245.64,230.47 L1246.34,250.42 L1246.86,262.2 L1247.56,274.44 L1248.25,283.5 L1248.6,287.07 L1249.12,291.44 L1249.47,293.79 L1249.99,296.65 L1250.34,298.17 L1250.86,299.98 L1251.38,301.36 L1251.73,302.07 L1252.08,302.66 L1252.77,303.53 L1253.47,304.11 L1253.99,304.4 L1254.51,304.61 L1255.2,304.8 L1255.9,304.92 L1257.81,305.06 L1261.11,305.1 L1666.3,305.1" fill="none" stroke="#ff0000" stroke-width="5.3" stroke-linejoin="round" stroke-linecap="round" clip-path="url(#cl)"/>
<path d="M1549.65,305.1 L1555.88,305.04 L1557.69,304.96 L1559.21,304.81 L1560.6,304.58 L1561.85,304.24 L1562.95,303.81 L1563.92,303.3 L1564.89,302.65 L1565.86,301.84 L1566.7,301.01 L1567.67,299.88 L1569.33,297.6 L1572.8,292.27 L1573.63,291.13 L1574.32,290.29 L1575.15,289.47 L1575.85,288.97 L1576.26,288.75 L1576.68,288.6 L1577.37,288.5 L1578.06,288.6 L1578.48,288.75 L1578.89,288.97 L1579.59,289.47 L1580.42,290.29 L1581.11,291.13 L1581.94,292.27 L1585.41,297.6 L1587.07,299.88 L1588.04,301.01 L1588.88,301.84 L1589.85,302.65 L1590.82,303.3 L1591.79,303.81 L1592.89,304.24 L1594.14,304.58 L1595.53,304.81 L1597.05,304.96 L1598.86,305.04 L1605.09,305.1" fill="none" stroke="#ff8000" stroke-width="3.2" stroke-linejoin="round"/>
<path d="M1039.6,305.6 L1075.6,305.6" fill="none" stroke="#ff8000" stroke-width="4.3"/>
<path d="M968.6,305.4 L1033.14,305.39 L1035.75,305.35 L1037.67,305.27 L1039.24,305.13 L1040.46,304.94 L1041.34,304.74 L1042.21,304.47 L1043.6,303.86 L1044.3,303.46 L1045,302.97 L1046.22,301.92 L1047.44,300.6 L1048.66,299.02 L1049.88,297.21 L1052.85,292.54 L1054.24,290.64 L1055.11,289.7 L1055.99,289.01 L1056.51,288.73 L1056.86,288.6 L1057.56,288.5 L1058.25,288.6 L1058.6,288.72 L1059.13,289 L1059.82,289.53 L1060.7,290.43 L1061.39,291.29 L1062.27,292.53 L1065.41,297.47 L1066.8,299.49 L1067.67,300.6 L1068.37,301.39 L1069.07,302.09 L1069.94,302.83 L1070.81,303.45 L1071.69,303.95 L1072.73,304.4 L1073.78,304.73 L1074.82,304.97 L1076.05,305.15 L1077.44,305.27 L1079.19,305.35 L1088.6,305.4 L1666.3,305.4" fill="none" stroke="#800080" stroke-width="3.3" stroke-linejoin="round"/>
<path d="M1549.65,204.57 L1551.66,204.51 L1553.11,204.4 L1554.36,204.22 L1555.4,203.95 L1556.37,203.56 L1557.2,203.07 L1557.96,202.45 L1558.73,201.62 L1559.42,200.63 L1560.11,199.37 L1560.74,197.96 L1561.36,196.24 L1561.91,194.42 L1562.47,192.29 L1563.02,189.81 L1563.58,186.96 L1564.55,180.99 L1565.52,173.66 L1566.42,165.57 L1567.39,155.51 L1568.22,145.85 L1569.05,135.38 L1572.59,87.82 L1573.42,77.84 L1574.18,69.8 L1575.01,62.59 L1575.43,59.7 L1575.85,57.32 L1576.26,55.49 L1576.61,54.39 L1576.82,53.92 L1577.02,53.6 L1577.23,53.43 L1577.37,53.4 L1577.51,53.43 L1577.72,53.6 L1577.92,53.92 L1578.13,54.39 L1578.48,55.49 L1578.89,57.32 L1579.31,59.7 L1579.73,62.59 L1580.56,69.8 L1581.32,77.84 L1582.15,87.82 L1585.69,135.38 L1586.52,145.85 L1587.35,155.51 L1588.32,165.57 L1589.22,173.66 L1590.19,180.99 L1591.16,186.96 L1591.72,189.81 L1592.27,192.29 L1592.83,194.42 L1593.38,196.24 L1594,197.96 L1594.63,199.37 L1595.32,200.63 L1596.01,201.62 L1596.78,202.45 L1597.54,203.07 L1598.37,203.56 L1599.34,203.95 L1600.38,204.22 L1601.63,204.4 L1603.08,204.51 L1605.09,204.57" fill="none" stroke="#ff00ff" stroke-width="3.2" stroke-linejoin="round"/>
<path d="M1033.6,204.6 L1081.6,204.6" fill="none" stroke="#ff00ff" stroke-width="3.2"/>
<path d="M968.6,204.6 L1026.16,204.6 L1029.82,204.57 L1032.09,204.5 L1033.66,204.36 L1034.88,204.15 L1035.93,203.83 L1036.8,203.44 L1037.67,202.86 L1038.37,202.24 L1039.07,201.42 L1039.77,200.37 L1040.64,198.64 L1041.51,196.36 L1042.21,194.05 L1042.91,191.23 L1043.6,187.85 L1044.3,183.84 L1045,179.16 L1045.7,173.76 L1046.92,162.54 L1047.61,155.13 L1048.31,147.05 L1049.53,131.57 L1052.67,89.15 L1053.54,78.57 L1054.24,71.07 L1055.11,63.27 L1055.64,59.58 L1055.99,57.57 L1056.51,55.27 L1056.86,54.24 L1057.21,53.61 L1057.38,53.45 L1057.56,53.4 L1057.73,53.45 L1057.91,53.6 L1058.25,54.22 L1058.6,55.25 L1059.13,57.53 L1059.48,59.54 L1060,63.22 L1060.87,71.01 L1061.57,78.49 L1062.44,89.07 L1065.75,133.78 L1067.15,151.09 L1068.02,160.68 L1068.89,169.17 L1069.59,175.13 L1070.46,181.54 L1071.34,186.87 L1072.21,191.2 L1072.73,193.37 L1073.26,195.24 L1073.78,196.85 L1074.3,198.22 L1074.82,199.38 L1075.52,200.65 L1076.05,201.41 L1076.74,202.23 L1077.44,202.86 L1078.31,203.43 L1079.19,203.83 L1080.06,204.1 L1081.45,204.36 L1083.2,204.51 L1085.64,204.58 L1089.83,204.6 L1666.3,204.6" fill="none" stroke="#000" stroke-width="3.3" stroke-linejoin="round"/>
<path d="M910.3,305.2 L1725,305.2 M918.94,305.2 v-6.3 M953.60,305.2 v-6.3 M988.25,305.2 v-6.3 M1022.91,305.2 v-6.3 M1057.56,305.2 v-10.2 M1092.21,305.2 v-6.3 M1126.87,305.2 v-6.3 M1161.52,305.2 v-6.3 M1196.18,305.2 v-6.3 M1230.83,305.2 v-10.2 M1265.48,305.2 v-6.3 M1300.14,305.2 v-6.3 M1334.79,305.2 v-6.3 M1369.45,305.2 v-6.3 M1404.10,305.2 v-10.2 M1438.75,305.2 v-6.3 M1473.41,305.2 v-6.3 M1508.06,305.2 v-6.3 M1542.72,305.2 v-6.3 M1577.37,305.2 v-10.2 M1612.02,305.2 v-6.3 M1646.68,305.2 v-6.3 M1681.33,305.2 v-6.3 M1715.99,305.2 v-6.3" stroke="#000" stroke-width="1.5" fill="none"/>
<text class="k" x="-1.85" y="514.7" font-size="27"><tspan dy="1.8">−</tspan><tspan dy="-1.8">15</tspan></text>
<text class="k" x="131.50" y="514.7" font-size="27"><tspan dy="1.8">−</tspan><tspan dy="-1.8">10</tspan></text>
<text class="k" x="272.70" y="514.7" font-size="27"><tspan dy="1.8">−</tspan><tspan dy="-1.8">5</tspan></text>
<text class="k" x="413.55" y="514.70" font-size="27">0</text>
<text class="k" x="546.90" y="514.70" font-size="27">5</text>
<text class="k" x="673.10" y="514.70" font-size="27">10</text>
<text class="k" x="806.70" y="514.70" font-size="27">15</text>
<text class="k w" x="19.35" y="56.70" font-size="46">(a)</text>
<text class="k" x="745.60" y="465.60" font-size="40.5">t [ps]</text>
<text class="o i" transform="translate(558.60,123.35) scale(1.13,1)" font-size="41">ϕ</text>
<text class="o i w3" x="584.60" y="130.50" font-size="28">R</text>
<text class="o" x="606.50" y="123.35" font-size="41">(t)</text>
<text class="o" x="654.20" y="125.70" font-size="41">∝</text>
<text class="o i" x="693.60" y="123.35" font-size="41">f</text>
<text class="o i w3" x="705.50" y="134.30" font-size="28">R</text>
<text class="o w3" transform="translate(709.30,104.10) scale(1,1.03)" font-size="29">SRS</text>
<text class="o" x="770.65" y="123.35" font-size="41">(t)</text>
<text class="m i" transform="translate(638.70,298.10) scale(1.13,1)" font-size="41">ϕ</text>
<text class="m w3" x="664.00" y="304.90" font-size="29">nr</text>
<text class="m" x="690.65" y="298.10" font-size="41">(t)</text>
<text class="k" x="1042.30" y="337.65" font-size="27"><tspan dy="2.1">−</tspan><tspan dy="-2.1">2</tspan></text>
<text class="k" x="1215.60" y="337.65" font-size="27"><tspan dy="2.1">−</tspan><tspan dy="-2.1">1</tspan></text>
<text class="k" x="1396.40" y="337.65" font-size="27">0</text>
<text class="k" x="1569.90" y="337.65" font-size="27">1</text>
<text class="k w" x="960.35" y="44.50" font-size="46">(b)</text>
<text class="k i w5" transform="translate(1082.20,138.40) scale(0.925,1.015)" font-size="41.5">A</text>
<text class="k w3" transform="translate(1085.30,137.60) scale(0.96,1.12)" font-size="55">ˆ</text>
<text class="k w3" x="1108.50" y="145.70" font-size="28">nr−</text>
<text class="k" x="1151.10" y="138.50" font-size="41">(Ω)</text>
<text class="r i w5" transform="translate(1227.90,50.30) scale(0.925,1.015)" font-size="41.5">A</text>
<text class="r w3" transform="translate(1231.00,49.50) scale(0.96,1.12)" font-size="55">ˆ</text>
<text class="r w3" x="1253.70" y="57.90" font-size="29.3">St</text>
<text class="r" x="1283.30" y="50.40" font-size="41">(Ω)</text>
<text class="b i w5" transform="translate(1415.80,44.60) scale(0.925,1.015)" font-size="41.5">A</text>
<text class="b w3" transform="translate(1418.90,43.80) scale(0.96,1.12)" font-size="55">ˆ</text>
<text class="b w3" x="1442.10" y="51.90" font-size="28">pu</text>
<text class="b" x="1475.00" y="44.70" font-size="41">(Ω)</text>
<text class="m i w5" transform="translate(1601.70,138.40) scale(0.925,1.015)" font-size="41.5">A</text>
<text class="m w3" transform="translate(1604.80,137.60) scale(0.96,1.12)" font-size="55">ˆ</text>
<text class="m w3" x="1628.00" y="145.70" font-size="28">nr+</text>
<text class="m" x="1670.70" y="138.50" font-size="41">(Ω)</text>
<text class="p i w5" transform="translate(993.20,276.90) scale(0.925,1.015)" font-size="41.5">A</text>
<text class="p w3" transform="translate(996.30,276.10) scale(0.96,1.12)" font-size="55">ˆ</text>
<text class="p w3" x="1019.50" y="284.20" font-size="28">sb−</text>
<text class="p" x="1066.80" y="277.00" font-size="41">(Ω)</text>
<text class="o i w5" transform="translate(1512.80,389.90) scale(0.925,1.015)" font-size="41.5">A</text>
<text class="o w3" transform="translate(1515.90,389.10) scale(0.96,1.12)" font-size="55">ˆ</text>
<text class="o w3" x="1539.10" y="397.20" font-size="28">sb+</text>
<text class="o" x="1586.30" y="390.00" font-size="41">(Ω)</text>
<text class="k" transform="translate(1618.80,289.30) scale(1,1.035)" font-size="41">Ω/Ω</text>
<text class="k i w3" x="1692.10" y="296.30" font-size="28">v</text>
<text class="g" transform="translate(1193.20,389.50) scale(1.05,1.05)" font-size="41">Δ</text>
<text class="g w3" x="1222.90" y="396.90" font-size="28">pu</text>
<text class="g" transform="translate(1255.80,389.50) scale(1.0,1.05)" font-size="40.6">=0.999 Ω</text>
<text class="g i w3" x="1424.10" y="396.50" font-size="28">v</text>
<path d="M1038.15,307.9 L1038.86,308.83 L1039.42,309.76 L1040.04,311 L1040.67,312.55 L1041.2,314.11 L1041.74,315.97 L1042.7,320 M1044.68,332 L1045.34,337.22 L1046.01,343.3 M1047.11,354.6 L1048.1,366.4 M1048.99,378 L1049.85,389.8 M1050.64,401.2 L1051.47,413 M1052.29,424.5 L1053.16,436 M1054.15,447.6 L1055.06,456.3 M1077.84,307.2 L1077.11,307.97 L1076.53,308.74 L1075.9,309.76 L1075.38,310.79 L1074.84,312.07 L1074.28,313.61 L1073.73,315.41 L1073.26,317.2 M1071.06,329 L1070.35,334.22 L1069.63,340.3 M1068.49,351.6 L1067.48,363.2 M1066.55,375 L1065.7,386.6 M1064.87,398.4 L1064.06,410 M1063.26,421.4 L1062.4,433 M1061.46,444.4 L1060.86,450.81 L1060.26,456.3" fill="none" stroke="#800080" stroke-width="3.3" stroke-linejoin="round"/>
</svg>
</body></html>
